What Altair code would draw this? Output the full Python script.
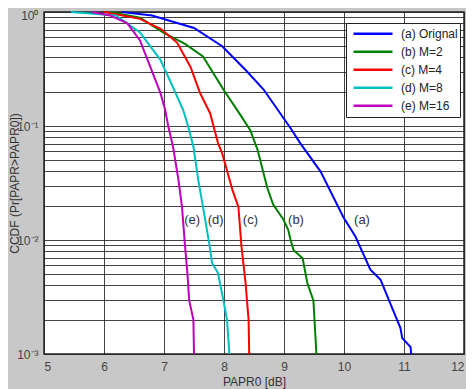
import altair as alt
import pandas as pd

series_names = ["(a) Orignal", "(b) M=2", "(c) M=4", "(d) M=8", "(e) M=16"]
colors = ["#0000ff", "#008000", "#ff0000", "#00bfbf", "#bf00bf"]

# PAPR0 [dB] values and log10(CCDF) exponents
a_x = [6.3, 6.8, 7.05, 7.5, 7.97, 8.38, 8.66, 9.11, 9.27, 9.61, 9.99, 10.19, 10.44, 10.61, 10.86, 10.94, 10.97, 11.11, 11.12]
a_e = [0.0, -0.03, -0.07, -0.14, -0.30, -0.52, -0.68, -1.02, -1.15, -1.40, -1.80, -1.97, -2.26, -2.35, -2.67, -2.77, -2.86, -2.94, -3.0]

b_x = [6.1, 6.6, 6.99, 7.35, 7.65, 7.99, 8.27, 8.44, 8.56, 8.72, 8.82, 8.99, 9.07, 9.11, 9.16, 9.31, 9.39, 9.49, 9.54]
b_e = [0.0, -0.05, -0.18, -0.28, -0.39, -0.68, -0.9, -1.04, -1.21, -1.54, -1.69, -1.82, -1.91, -2.0, -2.09, -2.16, -2.38, -2.53, -3.0]

c_x = [6.0, 6.6, 6.95, 7.22, 7.44, 7.6, 7.77, 7.9, 7.97, 8.05, 8.14, 8.24, 8.29, 8.36, 8.41, 8.42]
c_e = [0.0, -0.06, -0.15, -0.27, -0.48, -0.71, -0.89, -1.15, -1.24, -1.39, -1.56, -1.71, -2.05, -2.38, -2.70, -3.0]

d_x = [5.45, 6.2, 6.6, 6.94, 7.15, 7.32, 7.4, 7.49, 7.57, 7.65, 7.76, 7.8, 7.9, 7.99, 8.05, 8.09]
d_e = [0.0, -0.03, -0.18, -0.42, -0.66, -0.86, -1.0, -1.18, -1.47, -1.71, -2.05, -2.2, -2.29, -2.53, -2.70, -3.0]

e_x = [5.8, 6.1, 6.39, 6.6, 6.77, 6.94, 7.02, 7.07, 7.15, 7.24, 7.3, 7.35, 7.39, 7.42, 7.49, 7.5]
e_e = [0.0, -0.03, -0.1, -0.25, -0.48, -0.71, -0.86, -1.0, -1.18, -1.47, -1.71, -2.05, -2.29, -2.53, -2.70, -3.0]

label_text = ["(a)", "(b)", "(c)", "(d)", "(e)"]
label_x = [10.3, 9.2, 8.44, 7.86, 7.47]
label_y = [0.015, 0.015, 0.015, 0.015, 0.015]

x_ticks = [5, 6, 7, 8, 9, 10, 11, 12]
y_ticks = [k * 10.0 ** e for e in (-3, -2, -1) for k in range(1, 10)] + [1.0]

rows = []
for name, xs, es in zip(series_names, [a_x, b_x, c_x, d_x, e_x], [a_e, b_e, c_e, d_e, e_e]):
    for i, (xv, ev) in enumerate(zip(xs, es)):
        rows.append({"series": name, "order": i, "papr": xv, "ccdf": 10.0 ** ev})
df = pd.DataFrame(rows)
lab = pd.DataFrame({"text": label_text, "papr": label_x, "ccdf": label_y})

font = "Liberation Sans"
ylabel_expr = ("datum.value >= 0.99 ? '10⁰' : (datum.value > 0.099 && datum.value < 0.101) ? '10⁻¹' : "
               "(datum.value > 0.0099 && datum.value < 0.0101) ? '10⁻²' : (datum.value < 0.00101) ? '10⁻³' : ''")

x_enc = alt.X("papr:Q", scale=alt.Scale(domain=[5, 12], nice=False),
              axis=alt.Axis(values=x_ticks, format="d", title="PAPR0 [dB]", grid=True, gridColor="#222",
                            gridOpacity=0.85, ticks=False, domain=False, labelFont=font,
                            labelFontSize=12, labelColor="#444", titleFont=font, titleFontSize=12,
                            titleFontWeight="normal", titleColor="#333", labelPadding=7,
                            titleY=27, titleBaseline="middle"))
y_enc = alt.Y("ccdf:Q", scale=alt.Scale(type="log", domain=[0.001, 1], nice=False),
              axis=alt.Axis(values=y_ticks, labelExpr=ylabel_expr, title="CCDF (Pr[PAPR>PAPR0])",
                            grid=True, gridColor="#222", gridOpacity=0.85, ticks=False, domain=False,
                            labelFont=font, labelFontSize=12, labelColor="#444", titleFont=font,
                            titleFontSize=12, titleFontWeight="normal", titleColor="#333",
                            labelPadding=6,
                            labelOffset={"condition": {"test": "datum.value >= 0.99", "value": 3}, "value": 0},
                            titleX=-30, titleY=171, titleAngle=270, titleAlign="center",
                            titleBaseline="middle"))

lines = alt.Chart(df).mark_line(strokeWidth=2).encode(
    x=x_enc, y=y_enc,
    color=alt.Color("series:N", scale=alt.Scale(domain=series_names, range=colors),
                    legend=alt.Legend(title=None, orient="none", legendX=302, legendY=11,
                                      symbolType="stroke", symbolSize=1521, symbolStrokeWidth=2.5,
                                      labelFont=font, labelFontSize=12, labelColor="#222",
                                      fillColor="white", strokeColor="#222", padding=2,
                                      symbolOffset=4, clipHeight=17.5, rowPadding=0,
                                      labelOffset=7, cornerRadius=0)),
    order="order:Q",
)

texts = alt.Chart(lab).mark_text(font=font, fontSize=13, color="#333").encode(
    x="papr:Q", y="ccdf:Q", text="text:N")

chart = alt.layer(lines, texts).properties(
    width=420, height=342, background="#c8c8c8",
    padding={"left": 36, "top": 4, "right": 2, "bottom": 40},
    autosize=alt.AutoSizeParams(type="none"),
).configure_view(fill="white", stroke="#222", strokeWidth=1.5)

chart.save("out.html", embed_options={"renderer": "svg", "actions": False})
